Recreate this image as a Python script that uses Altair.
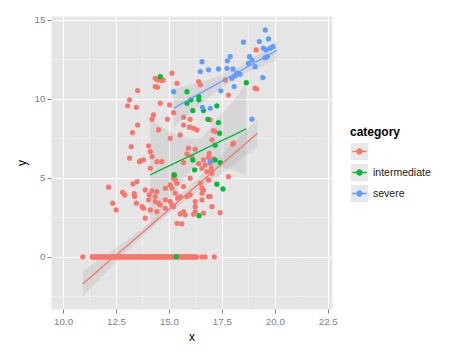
import altair as alt
import pandas as pd

categories = ["", "intermediate", "severe"]
palette = ["#F8766D", "#00BA38", "#619CFF"]

red_x = [14.35, 14.67, 15.14, 14.35, 15.38, 16.40, 16.48, 17.81, 19.07, 14.59,
         15.03, 15.22, 14.27, 14.20, 14.93, 15.69, 16.00, 15.69, 15.97, 16.16,
         16.32, 15.53, 15.06, 14.51, 16.95, 17.18, 17.03, 18.05, 14.04, 14.12,
         14.20, 14.67, 14.43, 13.80, 15.92, 16.24, 15.85, 16.08, 14.12, 15.69,
         16.63, 16.71, 16.95, 16.56, 16.79, 17.03, 17.81, 16.00, 15.22, 15.38,
         15.06, 15.14, 15.69, 16.48, 16.56, 16.87, 14.83, 13.88, 14.43, 15.30,
         15.53, 15.85, 16.00, 16.56, 16.87, 16.24, 16.56, 14.04, 14.35, 14.59,
         15.06, 15.22, 16.24, 17.03, 13.80, 14.12, 14.83, 16.24, 17.42, 15.53,
         15.77, 13.88, 15.38, 15.61, 16.63, 13.52, 13.14, 13.05, 13.46, 13.52,
         13.28, 13.22, 13.14, 13.65, 12.15, 13.30, 13.49, 12.81, 12.91, 13.36,
         13.38, 12.34, 13.46, 12.51, 13.73, 14.46, 14.46, 14.72, 19.12, 17.66,
         19.15, 17.10, 18.00, 13.61, 14.20, 14.07, 14.35, 14.51, 14.43, 16.63,
         16.95, 15.69, 16.16, 16.87, 17.10, 16.40, 16.90, 17.00, 15.22, 15.30,
         14.83, 15.14, 15.41]
red_y = [11.31, 11.16, 11.63, 10.78, 10.99, 11.10, 10.89, 10.25, 10.68, 9.73,
         9.62, 9.13, 8.99, 8.71, 8.71, 8.84, 8.71, 8.35, 8.21, 8.15,
         8.04, 7.72, 7.51, 8.04, 8.67, 7.93, 7.41, 7.20, 7.03, 6.66,
         6.35, 6.03, 6.03, 6.14, 6.88, 6.82, 6.52, 6.35, 5.61, 5.97,
         6.14, 5.82, 5.93, 5.61, 5.40, 5.30, 5.08, 4.98, 4.98, 4.66,
         4.56, 4.35, 4.45, 4.66, 4.35, 4.87, 4.35, 4.24, 4.13, 4.03,
         3.82, 3.82, 3.92, 4.03, 3.82, 3.50, 3.61, 3.61, 3.50, 3.29,
         3.50, 3.18, 3.18, 3.18, 3.08, 2.97, 3.08, 2.87, 2.80, 2.72,
         2.66, 2.45, 2.13, 2.09, 2.77, 10.53, 9.94, 9.56, 9.47, 8.35,
         7.87, 6.98, 6.25, 6.08, 4.41, 4.62, 4.77, 4.09, 3.92, 4.01,
         3.82, 3.40, 3.40, 2.97, 3.18, 10.74, 11.20, 11.20, 13.10, 11.20,
         10.63, 8.00, 7.13, 6.03, 4.18, 3.92, 3.82, 3.40, 2.87, 4.24,
         3.82, 2.87, 2.70, 6.30, 6.20, 5.90, 6.55, 5.60, 5.19, 4.87,
         3.61, 3.29, 3.72]

red_zero_x = [10.93, 11.37, 11.42, 11.48, 11.55, 11.60, 11.66, 11.71, 11.78, 11.83,
              11.90, 11.95, 12.02, 12.07, 12.13, 12.20, 12.25, 12.31, 12.38, 12.44,
              12.50, 12.55, 12.62, 12.68, 12.73, 12.80, 12.86, 12.91, 12.97, 13.04,
              13.10, 13.15, 13.22, 13.28, 13.33, 13.40, 13.46, 13.52, 13.57, 13.64,
              13.70, 13.75, 13.82, 13.88, 13.93, 14.00, 14.06, 14.12, 14.18, 14.24,
              14.30, 14.36, 14.42, 14.48, 14.54, 14.60, 14.66, 14.72, 14.78, 14.84,
              14.90, 14.96, 15.02, 15.08, 15.14, 15.20, 15.27, 15.33, 15.40, 15.46,
              15.52, 15.58, 15.64, 15.70, 15.76, 15.82, 15.88, 15.94, 16.00, 16.06,
              16.12, 16.18, 16.24, 16.30, 16.56, 16.71, 17.14]

green_x = [14.59, 15.85, 16.41, 16.41, 16.04, 15.85, 18.65, 17.26, 16.13, 16.63,
           16.84, 17.34, 17.39, 17.18, 16.13, 17.18, 17.42, 16.21, 15.26, 17.26,
           17.55, 16.42, 15.34]
green_y = [11.41, 10.46, 10.15, 9.94, 9.94, 9.73, 11.03, 9.56, 9.26, 9.26,
           8.71, 8.50, 7.83, 7.07, 6.14, 6.14, 5.97, 5.51, 5.19, 4.60,
           4.30, 2.61, 0.02]

blue_x = [19.55, 19.70, 18.52, 19.27, 19.46, 19.59, 19.78, 19.91, 19.65, 19.54,
          18.80, 18.92, 18.75, 19.07, 17.89, 17.76, 16.56, 16.87, 16.48, 17.34,
          17.74, 18.02, 18.21, 18.36, 18.13, 17.97, 19.43, 18.08, 17.45, 15.22,
          16.95, 16.58, 18.92, 16.95]
blue_y = [14.37, 13.80, 13.59, 13.63, 13.21, 13.10, 13.21, 13.31, 12.68, 12.61,
          12.68, 12.47, 12.26, 12.04, 12.68, 12.41, 12.36, 11.84, 11.73, 11.90,
          11.94, 11.90, 11.63, 11.56, 11.47, 11.31, 11.35, 10.78, 10.51, 10.46,
          9.41, 9.47, 8.72, 6.03]

# fitted lines and confidence bands
fit_red_x = [10.93, 12.0, 13.0, 14.2, 15.5, 17.0, 18.2, 19.18]
fit_red_y = [-1.71, -0.47, 0.68, 2.07, 3.57, 5.31, 6.69, 7.83]
fit_red_lo = [-2.51, -1.02, 0.33, 1.85, 3.27, 4.81, 5.99, 6.95]
fit_red_hi = [-0.91, 0.08, 1.03, 2.29, 3.87, 5.81, 7.39, 8.71]

fit_green_x = [14.12, 14.8, 15.5, 16.4, 17.3, 18.0, 18.65]
fit_green_y = [5.19, 5.63, 6.08, 6.65, 7.23, 7.68, 8.10]
fit_green_lo = [1.70, 3.10, 4.50, 5.80, 5.70, 5.50, 5.20]
fit_green_hi = [8.70, 8.15, 7.65, 7.50, 8.80, 9.80, 11.00]

fit_blue_x = [15.22, 16.0, 16.8, 17.6, 18.4, 19.2, 20.1]
fit_blue_y = [9.41, 10.00, 10.60, 11.20, 11.80, 12.41, 13.08]
fit_blue_lo = [8.21, 9.10, 10.00, 10.80, 11.48, 11.99, 12.43]
fit_blue_hi = [10.61, 10.90, 11.20, 11.60, 12.12, 12.83, 13.73]

x_major = [10.0, 12.5, 15.0, 17.5, 20.0, 22.5]
x_minor = [11.25, 13.75, 16.25, 18.75, 21.25]
y_major = [0, 5, 10, 15]
y_minor = [-2.5, 2.5, 7.5, 12.5]

# ---- tables ----
pts = pd.concat([
    pd.DataFrame({"category": "", "x": red_x, "y": red_y}),
    pd.DataFrame({"category": "", "x": red_zero_x, "y": [0.0] * len(red_zero_x)}),
    pd.DataFrame({"category": "intermediate", "x": green_x, "y": green_y}),
    pd.DataFrame({"category": "severe", "x": blue_x, "y": blue_y}),
], ignore_index=True)
pts["order"] = range(len(pts))

fits = pd.concat([
    pd.DataFrame({"category": "", "x": fit_red_x, "fit": fit_red_y, "lo": fit_red_lo, "hi": fit_red_hi}),
    pd.DataFrame({"category": "intermediate", "x": fit_green_x, "fit": fit_green_y, "lo": fit_green_lo, "hi": fit_green_hi}),
    pd.DataFrame({"category": "severe", "x": fit_blue_x, "fit": fit_blue_y, "lo": fit_blue_lo, "hi": fit_blue_hi}),
], ignore_index=True)
# key boxes behind the legend symbols (distinct domain so the legends stay separate)
key_domain = [c + " " for c in categories]
fits["key"] = fits["category"] + " "

xminor_df = pd.DataFrame({"v": x_minor})
yminor_df = pd.DataFrame({"v": y_minor})

FONT = "Liberation Sans"
x_scale = alt.Scale(domain=[9.43, 22.7], nice=False, zero=False)
y_scale = alt.Scale(domain=[-3.3, 15.25], nice=False, zero=False)
color_scale = alt.Scale(domain=categories, range=palette)

x_axis = alt.Axis(values=x_major, format=".1f", title="x", domain=False, grid=True,
                  gridColor="white", gridWidth=1.1, tickColor="#7F7F7F", tickSize=4,
                  labelColor="#7F7F7F", labelFontSize=9.8, labelPadding=3,
                  titleFontSize=12, titleColor="black", titleFontWeight="normal",
                  titlePadding=6, labelFont=FONT, titleFont=FONT)
y_axis = alt.Axis(values=y_major, format="d", title="y", domain=False, grid=True,
                  gridColor="white", gridWidth=1.1, tickColor="#7F7F7F", tickSize=4,
                  labelColor="#7F7F7F", labelFontSize=9.8, labelPadding=2,
                  titleFontSize=12, titleColor="black", titleFontWeight="normal",
                  titlePadding=6, labelFont=FONT, titleFont=FONT)

# line + dot key; the two zero-length corner segments give it the same box as the key squares
sym_path = ("M-1,-1L-1,-1M1,1L1,1M-0.82,0L0.82,0"
            "M0.29,0A0.29,0.29,0,1,1,-0.29,0A0.29,0.29,0,1,1,0.29,0Z")

common_leg = dict(orient="none", legendX=299, legendY=111,
                  symbolSize=300, titleFontSize=12, titleFontWeight="bold",
                  titleFont=FONT, labelFont=FONT, labelFontSize=10.5,
                  titlePadding=3, rowPadding=-4, labelOffset=4)

main_legend = alt.Legend(title="category", symbolType=sym_path, symbolStrokeWidth=1.3,
                         symbolOpacity=1, labelColor="#1a1a1a", titleColor="black",
                         zindex=2, **common_leg)
box_legend = alt.Legend(title=" ", symbolType="square", labelExpr="''",
                        zindex=1, symbolOpacity=1,
                        symbolFillColor="#E8E8E8", symbolStrokeColor="white",
                        symbolStrokeWidth=1, **common_leg)

vminor = alt.Chart(xminor_df).mark_rule(color="#F0F0F0", strokeWidth=0.7).encode(
    x=alt.X("v:Q", scale=x_scale, axis=x_axis))
hminor = alt.Chart(yminor_df).mark_rule(color="#F0F0F0", strokeWidth=0.7).encode(
    y=alt.Y("v:Q", scale=y_scale, axis=y_axis))

band = alt.Chart(fits).mark_area(color="#999999", opacity=0.2, interpolate="monotone").encode(
    x=alt.X("x:Q", scale=x_scale, axis=x_axis),
    y=alt.Y("lo:Q", scale=y_scale, axis=y_axis),
    y2="hi:Q",
    detail="category:N",
)

keybox = alt.Chart(fits).mark_point(filled=True, fill="#E8E8E8", stroke="white",
                                    strokeWidth=1, opacity=0).encode(
    x=alt.X("x:Q", scale=x_scale, axis=x_axis),
    y=alt.Y("fit:Q", scale=y_scale, axis=y_axis),
    shape=alt.Shape("key:N", scale=alt.Scale(domain=key_domain, range=["square", "square", "square"]),
                    legend=box_legend),
)

points = alt.Chart(pts).mark_circle(size=27, opacity=1).encode(
    x=alt.X("x:Q", scale=x_scale, axis=x_axis),
    y=alt.Y("y:Q", scale=y_scale, axis=y_axis),
    color=alt.Color("category:N", scale=color_scale, legend=main_legend),
    order="order:Q",
)

lines = alt.Chart(fits).mark_line(strokeWidth=1.3).encode(
    x=alt.X("x:Q", scale=x_scale, axis=x_axis),
    y=alt.Y("fit:Q", scale=y_scale, axis=y_axis),
    color=alt.Color("category:N", scale=color_scale, legend=main_legend),
    detail="category:N",
)

chart = alt.layer(vminor, hminor, band, keybox, points, lines).properties(
    width=281, height=293,
    autosize=alt.AutoSizeParams(type="none"),
    padding={"left": 51, "top": 16, "right": 142, "bottom": 46},
    background="white",
).configure_view(fill="#E5E5E5", stroke="transparent")

chart.save("out.html", embed_options={"renderer": "svg", "actions": False})
